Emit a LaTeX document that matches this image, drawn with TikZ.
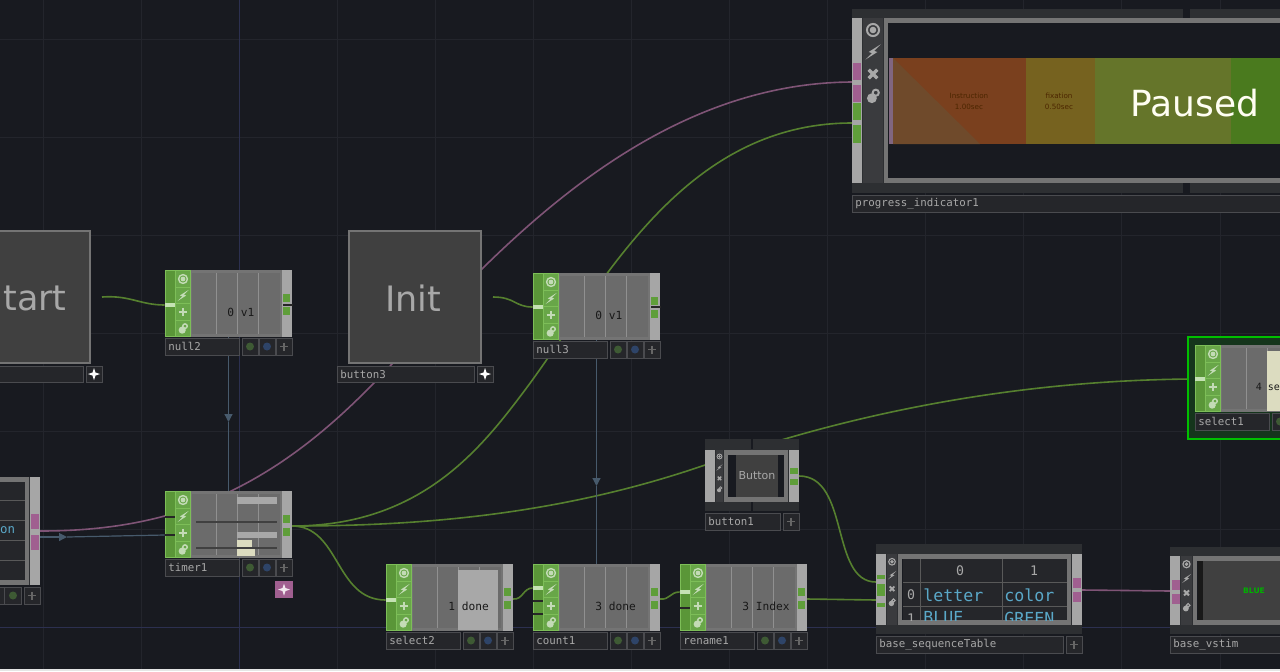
\documentclass[tikz,border=0pt]{standalone}
\usepackage{fontspec}
\setmainfont{DejaVu Sans}
\setmonofont{DejaVu Sans Mono}
\usetikzlibrary{arrows.meta, fit}

\definecolor{pagebg}{HTML}{181A20}
\definecolor{gridcol}{HTML}{23252C}
\definecolor{axiscol}{HTML}{2C3050}
\definecolor{opgreen}{HTML}{7DBE58}
\definecolor{opgreendark}{HTML}{5A9638}
\definecolor{opcell}{HTML}{68A648}
\definecolor{opplug}{HTML}{5F9E3A}
\definecolor{oppink}{HTML}{A05F90}
\definecolor{wirepink}{HTML}{7F5476}
\definecolor{wiregreen}{HTML}{56802F}
\definecolor{wireblue}{HTML}{475A6C}
\definecolor{arrowblue}{HTML}{56707F}
\definecolor{stripcol}{HTML}{A6A6A6}
\definecolor{viewcol}{HTML}{6B6B6B}
\definecolor{edgecol}{HTML}{747474}
\definecolor{rowcol}{HTML}{25262A}
\definecolor{rowedge}{HTML}{4A4B4F}
\definecolor{bandcol}{HTML}{2D2F32}
\definecolor{iconcol}{HTML}{3A3B3E}
\definecolor{namecol}{HTML}{A8A8A8}
\definecolor{cellcyan}{HTML}{5AA8C8}
\definecolor{papercol}{HTML}{DCDCC0}
\definecolor{bandorange}{HTML}{7A401E}
\definecolor{bandbrown}{HTML}{6F4A2B}
\definecolor{bandolive}{HTML}{76621F}
\definecolor{bandmix}{HTML}{65752A}
\definecolor{bandgreen}{HTML}{4A7A1E}
\definecolor{dotgreen}{HTML}{3E5A34}
\definecolor{dotblue}{HTML}{2E4468}

\pgfdeclarelayer{wires}
\pgfsetlayers{wires,main}

% circle, bolt, cross, lock
\newcommand{\iconstack}[5]{%
    \begin{scope}[shift={(#1,#2)}]
        \begin{scope}[scale=#4]
            \draw[line width=.9pt*#4] (0,0) circle (5.5);
            \fill (0,0) circle (3);
        \end{scope}
        \begin{scope}[shift={(0,#3)},scale=#4]
            \fill (7,-7) -- (-4,0) -- (-1,1) -- (-7,7) -- (4,0) -- (1,-1) -- cycle;
        \end{scope}
        \begin{scope}[shift={(0,2*#3)},scale=#4,rotate=#5]
            \draw[line width=1.5pt*#4] (-5.5,0) -- (5.5,0) (0,-5.5) -- (0,5.5);
        \end{scope}
        \begin{scope}[shift={(0,3*#3)},scale=#4]
            \fill (-1,2) circle (4.5);
            \draw[line width=.9pt*#4] (2.5,-3) circle (2.8);
        \end{scope}
    \end{scope}
}

\newcommand{\sparkle}[3]{%
    \fill[#3] (#1,{#2-6}) -- ({#1+1.5},{#2-1.5}) -- ({#1+6},#2) -- ({#1+1.5},{#2+1.5})
        -- (#1,{#2+6}) -- ({#1-1.5},{#2+1.5}) -- ({#1-6},#2) -- ({#1-1.5},{#2-1.5}) -- cycle;
}

\newcommand{\opplus}[2]{%
    \draw[line width=.9pt,black!60] ({#1-4},#2) -- ({#1+4},#2) (#1,{#2-4}) -- (#1,{#2+4});
}

% name, x, y, viewer text, viewer extras
\newcommand{\chopop}[5]{%
    \begin{scope}[shift={(#2,#3)}]
        \node[chopbody] (#1) at (63.5,33.5) {};
        \fill[viewcol] (27,3) rectangle (115,64);
        \draw[edgecol!80!white,line width=.4pt] (51,3) -- (51,64) (72,3) -- (72,64) (93,3) -- (93,64);
        #5
        \fill[opgreen] (0,0) rectangle (26,67);
        \fill[opgreendark] (1,1) rectangle (9.5,66);
        \foreach \i in {0,...,3}
            \fill[opcell] (11,{\i*16.5+1}) rectangle (25,{\i*16.5+16.5});
        \begin{scope}[color=white!60!opcell,fill=white!60!opcell]
            \iconstack{18}{9}{16.5}{.8}{0}
        \end{scope}
        \fill[stripcol] (117,0) rectangle (127,67);
        \fill[opplug] (118,24) rectangle (125,32);
        \fill[opplug] (118,37) rectangle (125,45);
        \coordinate (#1out) at (127,35);
        \node[viewtext] (#1text) at (62,42) {#4};
        \draw[oprow] (0,68) rectangle (74,85);
        \node[opname] (#1label) at (1,76.5) {#1};
        \draw[oprow] (77,68) rectangle (93,85);
        \draw[oprow] (94,68) rectangle (110,85);
        \draw[oprow] (111,68) rectangle (127,85);
        \fill[dotgreen] (85,76.5) circle (4);
        \fill[dotblue] (102,76.5) circle (4);
        \opplus{119}{76.5}
    \end{scope}
}

% name, label, x0, x1, band top, y0, y1, band bottom, icon width
\newcommand{\compop}[9]{%
    \node[compband,fit={(#3,#5)(#4,#8)}] (#1) {};
    \fill[stripcol] (#3,#6) rectangle ({#3+10},#7);
    \fill[iconcol] ({#3+11},#6) rectangle ({#3+11+#9},#7);
    \fill[edgecol] ({#3+12+#9},#6) rectangle ({#4-11},#7);
    \fill[pagebg] ({#3+16+#9},{#6+5}) rectangle ({#4-15},{#7-5});
    \fill[stripcol] ({#4-10},#6) rectangle (#4,#7);
    \pgfmathsetmacro{\iconstep}{5+.85*#9}
    \pgfmathsetmacro{\iconfirst}{#6+\iconstep/2+1}
    \pgfmathsetmacro{\iconscale}{#9/20+.1}
    \pgfmathsetmacro{\iconx}{#3+11+#9/2}
    \pgfmathsetmacro{\plusx}{#4-8}
    \pgfmathsetmacro{\plusy}{#8+10.5}
    \begin{scope}[color=namecol,fill=namecol]
        \iconstack{\iconx}{\iconfirst}{\iconstep}{\iconscale}{45}
    \end{scope}
    \draw[oprow] (#3,{#8+2}) rectangle ({#4-19},{#8+19});
    \node[opname] (#1label) at ({#3+1},{#8+10.5}) {#2};
    \draw[oprow] ({#4-16},{#8+2}) rectangle (#4,{#8+19});
    \opplus{\plusx}{\plusy}
}

\begin{document}
\begin{tikzpicture}[
            x = .5pt, % one unit is one pixel of the reference
            y = -.5pt,
            > = {Triangle[length=4pt,width=4pt]}, % arrow head style
            semithick
        ]

        \tikzstyle{chopbody}=[
            inner sep = 0pt,
            minimum width = 63.5pt,
            minimum height = 33.5pt,
            fill = edgecol
        ]
        \tikzstyle{compband}=[inner sep = 0pt, fill = bandcol]
        \tikzstyle{oprow}=[draw = rowedge, fill = rowcol, line width = .5pt]
        \tikzstyle{opname}=[
            anchor = west,
            inner sep = 1pt,
            text = namecol,
            font = \fontsize{5.4}{6}\selectfont\ttfamily
        ]
        \tikzstyle{viewtext}=[
            anchor = west,
            inner sep = 0pt,
            text = black!90,
            font = \fontsize{5.6}{6}\selectfont\ttfamily
        ]
        \tikzstyle{cellnum}=[
            inner sep = 0pt,
            text = namecol,
            font = \fontsize{6.6}{7}\selectfont\ttfamily
        ]
        \tikzstyle{celltext}=[
            inner sep = 0pt,
            text = cellcyan,
            font = \fontsize{8.3}{9}\selectfont\ttfamily
        ]
        \tikzstyle{bigbutton}=[
            inner sep = 0pt,
            minimum size = 66pt,
            draw = edgecol,
            line width = 1pt,
            fill = black!75
        ]
        \tikzstyle{bigtext}=[
            inner sep = 0pt,
            text = namecol,
            font = \fontsize{17.5}{18}\selectfont
        ]
        \tikzstyle{bandtext}=[
            inner sep = 0pt,
            align = center,
            text = black!70!orange,
            font = \fontsize{3.6}{5.4}\selectfont
        ]
        \tikzstyle{greenplug}=[
            inner sep = 0pt,
            minimum width = 4pt,
            minimum height = 2pt,
            fill = opplug
        ]
        \tikzstyle{pinkplug}=[
            inner sep = 0pt,
            minimum width = 4pt,
            minimum height = 5pt,
            fill = oppink
        ]
        \tikzstyle{inplug}=[
            inner sep = 0pt,
            minimum width = 5pt,
            minimum height = 2pt,
            fill = white!55!opgreen
        ]
        \tikzstyle{inbar}=[
            inner sep = 0pt,
            minimum width = 5pt,
            minimum height = 1.4pt,
            fill = black!85
        ]
        \tikzstyle{pinkwire}=[draw = wirepink, line width = .8pt]
        \tikzstyle{greenwire}=[draw = wiregreen, line width = .8pt]
        \tikzstyle{bluewire}=[draw = wireblue, fill = arrowblue, line width = .6pt]

        \useasboundingbox (0,0) rectangle (1280,671);
        \clip (0,0) rectangle (1280,671);

        % backdrop
        \begin{pgfonlayer}{wires}
            \fill[pagebg] (0,0) rectangle (1280,671);
            \foreach \x in {43,141,337,435,533,631,729,827,925,1023,1121,1220}
                \draw[gridcol,line width=.5pt] (\x,0) -- (\x,671);
            \foreach \y in {39,137,235,333,431,529}
                \draw[gridcol,line width=.5pt] (0,\y) -- (1280,\y);
            \draw[axiscol,line width=.5pt] (239,0) -- (239,671);
            \draw[axiscol,line width=.5pt] (0,627) -- (1280,627);
        \end{pgfonlayer}
        \fill[white!90!black] (0,669) rectangle (1280,671);

        % big buttons
        \node[bigbutton] (buttonStart) at (24,297) {};
        \node[bigtext, anchor = east] (startText) at (67,298) {tart};
        \draw[oprow] (-10,366) rectangle (83,382);
        \draw[oprow] (86,366) rectangle (102,382);
        \sparkle{94}{374}{white}
        \coordinate (startOut) at (102,297);

        \node[bigbutton] (buttonInit) at (415,297) {};
        \node[bigtext] (initText) at (413,298) {Init};
        \draw[oprow] (337,366) rectangle (474,382);
        \node[opname] (buttonInitLabel) at (338,374) {button3};
        \draw[oprow] (477,366) rectangle (493,382);
        \sparkle{485}{374}{white}
        \coordinate (initOut) at (493,297);

        % chops
        \chopop{null2}{165}{270}{0 v1}{}
        \chopop{null3}{533}{273}{0 v1}{}
        \chopop{timer1}{165}{491}{}{%
            \fill[namecol] (72,6) rectangle (112,13);
            \fill[namecol] (72,41) rectangle (112,47);
            \fill[black!75] (31,30) rectangle (112,32);
            \fill[black!75] (31,56) rectangle (112,58);
            \fill[papercol] (72,49) rectangle (87,56);
            \fill[papercol] (72,58) rectangle (90,65);
        }
        \chopop{select2}{386}{564}{1 done}{\fill[namecol] (72,6) rectangle (112,66);}
        \chopop{count1}{533}{564}{3 done}{}
        \chopop{rename1}{680}{564}{3 Index}{}

        % selected chop
        \draw[green!75!black,line width=1pt,fill=green!12!pagebg] (1188,337) rectangle (1300,439);
        \chopop{select1}{1195}{345}{}{\fill[papercol] (72,6) rectangle (120,66);}
        \node[viewtext, font = \fontsize{5}{6}\selectfont\ttfamily] (select1text) at (1255.5,387) {4 se};

        \fill[oppink] (275,581) rectangle (293,598);
        \sparkle{284}{589.5}{white!85!oppink}

        % input plugs
        \node[inplug] (null2in) at (170,305) {};
        \node[inplug] (null3in) at (538,307) {};
        \node[inbar] (timer1bar1) at (170,517) {};
        \node[inbar] (timer1bar2) at (170,535) {};
        \node[inplug] (select2in) at (391,600) {};
        \node[inplug] (count1in) at (538,588) {};
        \node[inbar] (count1bar1) at (538,601) {};
        \node[inbar] (count1bar2) at (538,614) {};
        \node[inplug] (rename1in) at (685,592) {};
        \node[inbar] (rename1bar) at (685,608) {};
        \node[inplug] (select1in) at (1200,379) {};
        \node[inbar] (null2bar) at (287.5,305) {};
        \node[inbar] (null3bar) at (655.5,307) {};

        % left table, only its end shows
        \compop{leftTable}{}{-140}{40}{477}{477}{585}{585}{10}
        \fill[rowcol] (0,482) rectangle (25,580);
        \foreach \y in {500,520,540,560}
            \draw[black!65,line width=.5pt] (0,\y) -- (25,\y);
        \node[inner sep=0pt,anchor=east,text=cellcyan,font=\fontsize{6.2}{7}\selectfont\ttfamily] (leftCell) at (15.5,530) {on};
        \node[pinkplug, minimum height = 7.5pt] (leftPlug1) at (34.5,521) {};
        \node[pinkplug, minimum height = 7.5pt] (leftPlug2) at (34.5,542.5) {};
        \coordinate (leftOut1) at (40,531);
        \coordinate (leftOut2) at (40,537);
        \draw[oprow] (4,587) rectangle (21,604);
        \fill[dotgreen] (13,595.5) circle (4);

        % progress bar
        \compop{progress}{progress\_indicator1}{852}{1310}{9}{18}{183}{193}{20}
        \fill[pagebg] (1183,9) rectangle (1190,18);
        \fill[pagebg] (1183,183) rectangle (1190,193);
        \fill[gray!80!violet] (889,58) rectangle (893,144);
        \fill[bandorange] (893,58) rectangle (1026,144);
        \fill[bandbrown] (893,58) -- (980,144) -- (893,144) -- cycle;
        \fill[bandolive] (1026,58) rectangle (1095,144);
        \fill[bandmix] (1095,58) rectangle (1231,144);
        \fill[bandgreen] (1231,58) rectangle (1280,144);
        \node[bandtext] (bandOne) at (969,101) {Instruction\\1.00sec};
        \node[bandtext] (bandTwo) at (1059,101) {fixation\\0.50sec};
        \node[bigtext, text = white!95!yellow, font = \fontsize{18}{18}\selectfont] (pausedText) at (1195,103) {Paused};
        \node[pinkplug, minimum height = 8.5pt] (progressPlug1) at (857,71) {};
        \node[pinkplug, minimum height = 8.5pt] (progressPlug2) at (857,93.5) {};
        \node[greenplug, minimum height = 8.5pt] (progressPlug3) at (857,111) {};
        \node[greenplug, minimum height = 9pt] (progressPlug4) at (857,134) {};
        \coordinate (progressIn1) at (852,82);
        \coordinate (progressIn2) at (852,123);

        % button
        \compop{button1}{button1}{705}{799}{439}{450}{502}{511}{7}
        \fill[pagebg] (751,439) rectangle (753,449);
        \fill[pagebg] (751,502) rectangle (753,511);
        \fill[black!75] (736,455) rectangle (778,497);
        \node[inner sep=0pt,text=namecol,font=\fontsize{5.5}{6}\selectfont] (button1Text) at (757,476) {Button};
        \node[greenplug, minimum height = 3pt] (button1Plug1) at (794,471) {};
        \node[greenplug, minimum height = 3pt] (button1Plug2) at (794,482) {};
        \coordinate (button1Out) at (799,476);
        \coordinate (button1In) at (705,465);

        % table
        \compop{sequenceTable}{base\_sequenceTable}{876}{1082}{544}{554}{625}{634}{10}
        \begin{scope}
            \clip (903,559) rectangle (1067,620);
            \fill[rowcol] (903,559) rectangle (1067,620);
            \draw[black!65,line width=.5pt] (920,559) -- (920,620) (1002,559) -- (1002,620);
            \draw[black!65,line width=.5pt] (903,582) -- (1067,582) (903,606) -- (1067,606);
            \node[cellnum] (cellHeadA) at (960,571) {0};
            \node[cellnum] (cellHeadB) at (1034,571) {1};
            \node[cellnum] (cellRowA) at (911,595) {0};
            \node[cellnum] (cellRowB) at (911,619) {1};
            \node[celltext, anchor = west] (cellLetter) at (923,595) {letter};
            \node[celltext, anchor = west] (cellColor) at (1004,595) {color};
            \node[celltext, anchor = west] (cellBlue) at (923,618) {BLUE};
            \node[celltext, anchor = west] (cellGreen) at (1004,618) {GREEN};
        \end{scope}
        \node[greenplug] (tablePlug1) at (881,577) {};
        \node[greenplug, minimum height = 6pt] (tablePlug2) at (881,590) {};
        \node[greenplug] (tablePlug3) at (881,605) {};
        \node[pinkplug] (tablePlug4) at (1076.5,583) {};
        \node[pinkplug] (tablePlug5) at (1076.5,597) {};
        \coordinate (tableIn1) at (876,582);
        \coordinate (tableIn2) at (876,600);
        \coordinate (tableOut) at (1082,590);

        % vstim
        \compop{vstim}{base\_vstim}{1170}{1310}{547}{556}{625}{634}{11}
        \fill[black!75] (1203,561) rectangle (1280,620);
        \fill[black!90] (1198,561) rectangle (1203,620);
        \node[inner sep=0pt,text=green!70!black,font=\fontsize{3.8}{4}\selectfont\bfseries] (vstimText) at (1254,591) {BLUE};
        \node[pinkplug] (vstimPlug1) at (1176,584.5) {};
        \node[pinkplug] (vstimPlug2) at (1176,599) {};
        \coordinate (vstimIn) at (1170,591);

        % wires
        \begin{pgfonlayer}{wires}
            \draw[pinkwire] (leftOut1) .. controls (110,531) and (170,520) .. (227,493)
                .. controls (290,463) and (340,420) .. (392,364)
                .. controls (500,245) and (650,83) .. (progressIn1);
            \draw[pinkwire] (tableOut) -- (vstimIn);
            \draw[greenwire] (startOut) .. controls (130,295) and (140,305) .. (null2in.west);
            \draw[greenwire] (initOut) .. controls (515,297) and (515,307) .. (null3in.west);
            \draw[greenwire] (timer1out) .. controls (420,526) and (480,450) .. (525,390)
                .. controls (600,290) and (680,123) .. (progressIn2);
            \draw[greenwire] (timer1out) .. controls (420,526) and (560,515) .. (button1In)
                .. controls (830,420) and (1000,380) .. (select1in.west);
            \draw[greenwire] (timer1out) .. controls (340,526) and (335,600) .. (select2in.west);
            \draw[greenwire] (select2out) .. controls (523,600) and (523,588) .. (count1in.west);
            \draw[greenwire] (count1out) .. controls (670,600) and (670,592) .. (rename1in.west);
            \draw[greenwire] (rename1out) -- (tableIn2);
            \draw[greenwire] (button1Out) .. controls (850,476) and (830,582) .. (tableIn1);
            \coordinate (null2mark) at (228.5,422);
            \coordinate (null3mark) at (596.5,486);
            \coordinate (leftMark) at (67,537);
            \draw[bluewire,->] (null2) -- (null2mark);
            \draw[bluewire] (null2mark) -- (timer1);
            \draw[bluewire,->] (null3) -- (null3mark);
            \draw[bluewire] (null3mark) -- (count1);
            \draw[bluewire,->] (leftOut2) -- (leftMark);
            \draw[bluewire] (leftMark) -- (timer1bar2.west);
        \end{pgfonlayer}

    \end{tikzpicture}
\end{document}
